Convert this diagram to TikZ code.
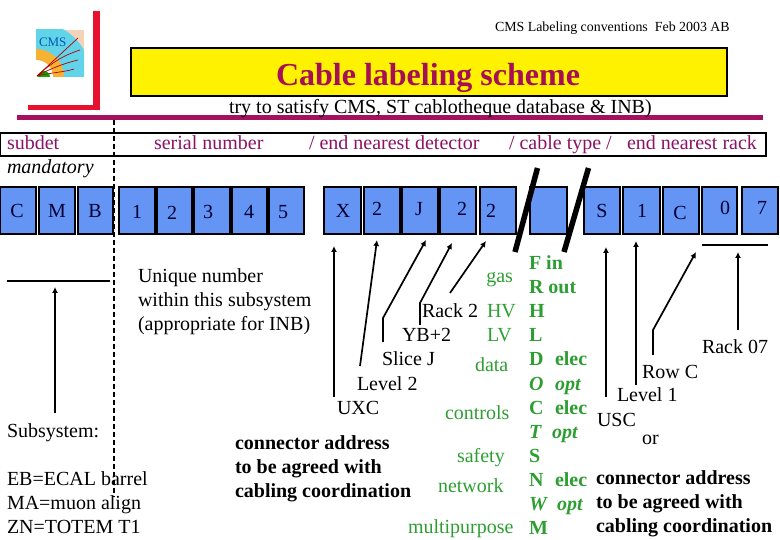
\documentclass[tikz,border=0pt]{standalone}
\usepackage{fontspec}
\setmainfont{Liberation Serif}
\usetikzlibrary{arrows.meta}
\definecolor{grn}{HTML}{2E9E33}
\definecolor{plab}{HTML}{8C1266}
\definecolor{ptit}{HTML}{A50F55}
\definecolor{rule}{HTML}{A5105F}
\definecolor{redl}{HTML}{E8102F}
\definecolor{cellb}{HTML}{6495F5}
\definecolor{peach}{HTML}{F3D3B8}
\definecolor{lcyan}{HTML}{62D4EA}
\definecolor{lorange}{HTML}{F5B233}
\tikzset{
 x=1pt,y=-1pt,
 txt/.style={anchor=base west,inner sep=0pt,outer sep=0pt,yshift=-1pt,font=\fontsize{20}{20}\selectfont},
 txe/.style={txt,anchor=base east},
 gt/.style={txt,text=grn},
 gte/.style={txe,text=grn},
 gb/.style={txt,text=grn,font=\fontsize{20}{20}\selectfont\bfseries},
 gi/.style={txt,text=grn,font=\fontsize{20}{20}\selectfont\bfseries\itshape},
 bb/.style={txt,font=\fontsize{20}{20}\selectfont\bfseries},
 pl/.style={txt,text=plab},
 cell/.style={draw=black,line width=2pt,fill=cellb,inner sep=0pt,minimum height=47pt},
 ltr/.style={anchor=base,inner sep=0pt,yshift=-1pt,font=\fontsize{20}{20}\selectfont,text=black!80!blue},
 conn/.style={line width=1.7pt,line join=miter},
 arr/.style={conn,-{Latex[length=6pt,width=6pt]}},
 slash/.style={line width=5.5pt,black},
}
\begin{document}
\begin{tikzpicture}
\useasboundingbox (0,0) rectangle (780,540);
% logo
\begin{scope}
\clip (36,30) rectangle (84,77);
\fill[peach] (36,30) rectangle (84,77);
\fill[lcyan] (36,77) circle[radius=55];
\fill[lorange] (36,77) circle[radius=28];
\fill[white] (36,77) circle[radius=17];
\fill[green!70!black] (44,77) circle[radius=6];
\draw[red!70!black,line width=.7pt] (37,76) -- (78,38);
\draw[red!70!black,line width=.7pt] (37,76) .. controls (55,60) and (65,55) .. (80,50);
\draw[red!70!black,line width=.7pt] (37,76) .. controls (55,66) and (70,62) .. (78,60);
\draw[red!70!black,line width=.7pt] (37,76) .. controls (55,72) and (65,72) .. (74,69);
\end{scope}
\node[txt,font=\fontsize{13}{13}\selectfont,text=blue!50!cyan!70!black] (logotext) at (39,46) {CMS};
% red corner and rule
\fill[redl] (93,11) rectangle (100,110);
\fill[redl] (28,105) rectangle (100,110);
\fill[rule] (17,115) rectangle (763,120);
% header
\node[txt,font=\fontsize{13.9}{13.9}\selectfont] (hdr) at (495,31) {CMS Labeling conventions\ \ Feb 2003 AB};
\node[draw=black,line width=2pt,fill=yellow,minimum width=596pt,minimum height=48pt,inner sep=0pt] (titlebox) at (429,72) {};
\node[anchor=base,inner sep=0pt,font=\fontsize{32}{32}\selectfont\bfseries,text=ptit] (title) at (428,86) {Cable labeling scheme};
\node[txt] (sub) at (229,113) {try to satisfy CMS, ST cablotheque database \& INB)};
% label bar
\node[draw=black,line width=2pt,fill=white,minimum width=766pt,minimum height=23pt,inner sep=0pt] (bar) at (383,144.5) {};
\node[pl] (l1) at (7,149) {subdet};
\node[pl] (l2) at (154,149) {serial number};
\node[pl] (l3) at (309,149) {/ end nearest detector};
\node[pl] (l4) at (509,149) {/ cable type /};
\node[pl] (l5) at (627,149) {end nearest rack};
\node[txt,font=\fontsize{20}{20}\selectfont\itshape] (mand) at (7,173) {mandatory};
% cells: name / left / right / letter / letter x / baseline
\foreach \n/\a/\b/\t/\lx/\by in {
 c1/0/36/C/17/217, c2/38.5/75/M/57/217, c3/78/113/B/95/217,
 c4/119/155/1/137/218, c5/157/192/2/172/219, c6/194/230/3/208/218, c7/232/267/4/249/218, c8/269/304/5/283/218,
 c9/324/361/X/343/217, c10/363.5/400/2/377/215, c11/402/438/J/419/215, c12/440/476/2/462/215, c13/480/516/2/491/217,
 c14/530/567/{}/548/217,
 c15/584/620/S/602/217, c16/623/660/1/642/217, c17/663/699/C/680/219, c18/702/737/0/725/214, c19/742/778/7/762/214}{
 \pgfmathsetmacro\cellx{(\a+\b)/2}\pgfmathsetmacro\cellw{\b-\a}
 \node[cell,minimum width=\cellw pt] (\n) at (\cellx,210.5) {};
 \node[ltr] (\n t) at (\lx,\by) {\t};
}
% slashes
\coordinate (s1a) at (537.5,168); \coordinate (s1b) at (515,252);
\coordinate (s2a) at (588.5,168); \coordinate (s2b) at (564,252);
\draw[slash] (s1a) -- (s1b);
\draw[slash] (s2a) -- (s2b);
% left text
\node[txt] (u1) at (138,282) {Unique number};
\node[txt] (u2) at (138,306) {within this subsystem};
\node[txt] (u3) at (138,330) {(appropriate for INB)};
\node[txt] (ss) at (7,436) {Subsystem:};
\node[txt] (eb) at (7,484) {EB=ECAL barrel};
\node[txt] (ma) at (7,508) {MA=muon align};
\node[txt] (zn) at (7,532) {ZN=TOTEM T1};
\node[bb] (ca1) at (235,448) {connector address};
\node[bb] (ca2) at (235,472) {to be agreed with};
\node[bb] (ca3) at (235,496) {cabling coordination};
% location text
\node[txt] (rack2) at (422,317) {Rack 2};
\node[txt] (yb) at (402,341) {YB+2};
\node[txt] (slice) at (382,365) {Slice J};
\node[txt] (lev2) at (357,389) {Level 2};
\node[txt] (uxc) at (337,413) {UXC};
\node[txt] (rack7) at (702,353) {Rack 07};
\node[txt] (rowc) at (642,377) {Row C};
\node[txt] (lev1) at (617,401) {Level 1};
\node[txt] (usc) at (597,425) {USC};
\node[txt] (ortxt) at (642,443) {or};
\node[bb] (cb1) at (596,483) {connector address};
\node[bb] (cb2) at (596,507) {to be agreed with};
\node[bb] (cb3) at (596,531) {cabling coordination};
% green
\node[gte] (gas) at (513,282) {gas};
\node[gt] (hv) at (487,317) {HV};
\node[gt] (lv) at (487,341) {LV};
\node[gt] (data) at (475,370) {data};
\node[gt] (ctl) at (445,418) {controls};
\node[gt] (saf) at (457,461) {safety};
\node[gt] (net) at (438,491) {network};
\node[gt] (mp) at (408,532) {multipurpose};
\node[gb] (fin) at (529,269) {F in};
\node[gb] (rout) at (529,293) {R out};
\node[gb] (h) at (529,317) {H};
\node[gb] (l) at (529,341) {L};
\node[gb] (d) at (529,365) {D};
\node[gb] (de) at (555,365) {elec};
\node[gi] (o) at (529,389) {O};
\node[gi] (oo) at (555,389) {opt};
\node[gb] (c) at (529,413) {C};
\node[gb] (ce) at (555,413) {elec};
\node[gi] (t) at (529,437) {T};
\node[gi] (to) at (552,437) {opt};
\node[gb] (s) at (529,461) {S};
\node[gb] (n) at (529,485) {N};
\node[gb] (ne) at (555,485) {elec};
\node[gi] (w) at (529,509) {W};
\node[gi] (wo) at (557,509) {opt};
\node[gb] (m) at (529,533) {M};
% connector ends
\coordinate (a0) at (55,413); \coordinate (a0t) at (55,287);
\coordinate (a1) at (334,397); \coordinate (a1t) at (334,246);
\coordinate (a2) at (360,366); \coordinate (a2t) at (377,240);
\coordinate (a3) at (383,342); \coordinate (a3m) at (383,318); \coordinate (a3t) at (426,240);
\coordinate (a4) at (420,325); \coordinate (a4m) at (420,303); \coordinate (a4t) at (452,243);
\coordinate (a5) at (450,293); \coordinate (a5t) at (486,241);
\coordinate (a6) at (606,397); \coordinate (a6t) at (606,247);
\coordinate (a7) at (636,385); \coordinate (a7t) at (636,241);
\coordinate (a8) at (653,355); \coordinate (a8m) at (653,330); \coordinate (a8t) at (696,252);
\coordinate (a9) at (738,330); \coordinate (a9t) at (738,252);
\coordinate (h1a) at (7,281); \coordinate (h1b) at (110,281);
\coordinate (h2a) at (702,245); \coordinate (h2b) at (768,245);
\coordinate (d1) at (114,120); \coordinate (d2) at (114,497);
\draw[conn] (h1a) -- (h1b);
\draw[conn] (h2a) -- (h2b);
\draw[arr] (a0) -- (a0t);
\draw[arr] (a1) -- (a1t);
\draw[arr] (a2) -- (a2t);
\draw[arr] (a3) -- (a3m) -- (a3t);
\draw[arr] (a4) -- (a4m) -- (a4t);
\draw[arr] (a5) -- (a5t);
\draw[arr] (a6) -- (a6t);
\draw[arr] (a7) -- (a7t);
\draw[arr] (a8) -- (a8m) -- (a8t);
\draw[arr] (a9) -- (a9t);
\draw[line width=1.5pt,dash pattern=on 5pt off 3pt] (d1) -- (d2);
\end{tikzpicture}
\end{document}
